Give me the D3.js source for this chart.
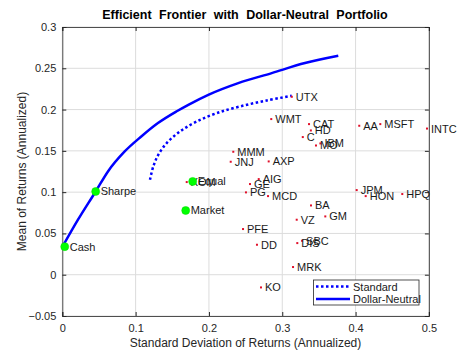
<!DOCTYPE html>
<html><head><meta charset="utf-8">
<script src="https://cdn.jsdelivr.net/npm/d3@7"></script>
<style>body{margin:0;background:#fff}svg{display:block}text{font-family:"Liberation Sans",Arial,sans-serif}</style>
</head><body><svg id="c" width="474" height="355"></svg>
<script>
const stockNames = ["UTX","WMT","CAT","HD","C","IBM","MO","AA","MSFT","INTC","MMM","JNJ","AXP","AIG","GE","PG","MCD","JPM","HON","HPQ","BA","GM","VZ","PFE","DD","SBC","DIS","MRK","KO","XOM"];
const stockRisk = [0.313,0.285,0.3365,0.339,0.328,0.352,0.346,0.405,0.4337,0.4974,0.2332,0.2297,0.2815,0.2679,0.256,0.2505,0.2806,0.4015,0.4138,0.4637,0.3392,0.3587,0.3197,0.2465,0.2655,0.327,0.3205,0.3147,0.271,0.1697];
const stockRet = [0.2155,0.1885,0.1824,0.1747,0.1667,0.159,0.1565,0.1804,0.1824,0.177,0.1489,0.1368,0.1372,0.1158,0.1098,0.0997,0.0952,0.1025,0.0952,0.0977,0.0839,0.0706,0.0666,0.0553,0.0363,0.0411,0.0383,0.0093,-0.0154,0.1122];
const specialNames = ["Equal","Market","Sharpe","Cash"];
const specialRisk = [0.1778,0.1683,0.0455,0.0033];
const specialRet = [0.113,0.0778,0.1008,0.034];
const stdRisk = [0.1196,0.1241,0.131,0.1424,0.1605,0.1833,0.2106,0.2424,0.2788,0.3129];
const stdRet = [0.115,0.1311,0.1453,0.1594,0.1735,0.1856,0.1957,0.2038,0.211,0.2167];
const dnRisk = [0.0,0.0214,0.0455,0.0623,0.0851,0.1077,0.1305,0.1555,0.1719,0.1991,0.240,0.2856,0.331,0.3764];
const dnRet = [0.0335,0.0666,0.1008,0.1251,0.1493,0.1674,0.1837,0.1977,0.2058,0.2179,0.2321,0.2442,0.2563,0.2651];
const xTicks = [0,0.1,0.2,0.3,0.4,0.5];
const yTicks = [-0.05,0,0.05,0.1,0.15,0.2,0.25,0.3];

const svg = d3.select("#c");
const L=62.3,R=428.9,T=27,B=316;
const x = d3.scaleLinear().domain([0,0.5]).range([L,R]);
const y = d3.scaleLinear().domain([-0.05,0.3]).range([B,T]);
const axisCol="#262626";

// grid
const g = svg.append("g");
g.selectAll(".gx").data(xTicks).join("line").attr("x1",d=>x(d)).attr("x2",d=>x(d)).attr("y1",T).attr("y2",B).attr("stroke","#dcdcdc").attr("stroke-width",1);
g.selectAll(".gy").data(yTicks).join("line").attr("y1",d=>y(d)).attr("y2",d=>y(d)).attr("x1",L).attr("x2",R).attr("stroke","#dcdcdc").attr("stroke-width",1);

// axes
const fmt = d=>d3.format("")(+d.toFixed(2));
const xa = svg.append("g").attr("transform",`translate(0,${B})`).call(d3.axisBottom(x).tickValues(xTicks).tickSize(-4).tickPadding(8).tickFormat(fmt));
const xt = svg.append("g").attr("transform",`translate(0,${T})`).call(d3.axisTop(x).tickValues(xTicks).tickSize(-4).tickFormat(""));
const ya = svg.append("g").attr("transform",`translate(${L},0)`).call(d3.axisLeft(y).tickValues(yTicks).tickSize(-4).tickPadding(6).tickFormat(fmt));
const yr = svg.append("g").attr("transform",`translate(${R},0)`).call(d3.axisRight(y).tickValues(yTicks).tickSize(-4).tickFormat(""));
[xa,xt,ya,yr].forEach(a=>{a.selectAll("path").attr("stroke",axisCol).attr("stroke-width",0.8);a.selectAll("line").attr("stroke",axisCol);a.selectAll("text").attr("fill",axisCol).style("font-size","11px").style("font-family","'Liberation Sans',Arial,sans-serif");});

// curves
const lineGen = d3.line().x(d=>x(d[0])).y(d=>y(d[1])).curve(d3.curveMonotoneX);
svg.append("path").datum(dnRisk.map((r,i)=>[r,dnRet[i]])).attr("d",lineGen).attr("fill","none").attr("stroke","#0000ff").attr("stroke-width",2.5);
const lineGen2 = d3.line().x(d=>x(d[0])).y(d=>y(d[1])).curve(d3.curveCatmullRom);
svg.append("path").datum(stdRisk.map((r,i)=>[r,stdRet[i]])).attr("d",lineGen2).attr("fill","none").attr("stroke","#0000ff").attr("stroke-width",2.5).attr("stroke-dasharray","2.5,2.5");

// stocks
const st = stockNames.map((n,i)=>({n,r:stockRisk[i],m:stockRet[i]}));
svg.selectAll(".sd").data(st).join("rect").attr("x",d=>x(d.r)-1).attr("y",d=>y(d.m)-1).attr("width",2).attr("height",2).attr("fill","#e0102a");
svg.selectAll(".sl").data(st).join("text").attr("x",d=>x(d.r)+4).attr("y",d=>y(d.m)+4).text(d=>d.n).attr("fill","#1a1a1a").style("font-size","11px");

// special
const sp = specialNames.map((n,i)=>({n,r:specialRisk[i],m:specialRet[i]}));
svg.selectAll(".spd").data(sp).join("circle").attr("cx",d=>x(d.r)).attr("cy",d=>y(d.m)).attr("r",4).attr("fill","#00ff00").attr("stroke","#00dd00").attr("stroke-width",0.5);
svg.selectAll(".spl").data(sp).join("text").attr("x",d=>x(d.r)+5).attr("y",d=>y(d.m)+4).text(d=>d.n).attr("fill","#1a1a1a").style("font-size","11px");

// legend
const lg = svg.append("g");
lg.append("rect").attr("x",313.5).attr("y",280).attr("width",105.5).attr("height",25).attr("fill","#fff").attr("stroke",axisCol).attr("stroke-width",0.8);
lg.append("line").attr("x1",316).attr("x2",350).attr("y1",286.5).attr("y2",286.5).attr("stroke","#0000ff").attr("stroke-width",2.5).attr("stroke-dasharray","2.5,2.5");
lg.append("line").attr("x1",316).attr("x2",350).attr("y1",299).attr("y2",299).attr("stroke","#0000ff").attr("stroke-width",2.5);
lg.append("text").attr("x",353).attr("y",290.5).text("Standard").attr("fill","#1a1a1a").style("font-size","11px");
lg.append("text").attr("x",353).attr("y",303).text("Dollar-Neutral").attr("fill","#1a1a1a").style("font-size","11px");

// titles
svg.append("text").attr("x",245).attr("y",19).attr("text-anchor","middle").text("Efficient Frontier with Dollar-Neutral Portfolio").style("font-size","12.5px").style("font-weight","bold").style("word-spacing","4px").attr("fill","#000");
svg.append("text").attr("x",245.5).attr("y",347).attr("text-anchor","middle").text("Standard Deviation of Returns (Annualized)").style("font-size","12px").attr("fill",axisCol);
svg.append("text").attr("transform","translate(26,171.5) rotate(-90)").attr("text-anchor","middle").text("Mean of Returns (Annualized)").style("font-size","12px").attr("fill",axisCol);
</script></body></html>
